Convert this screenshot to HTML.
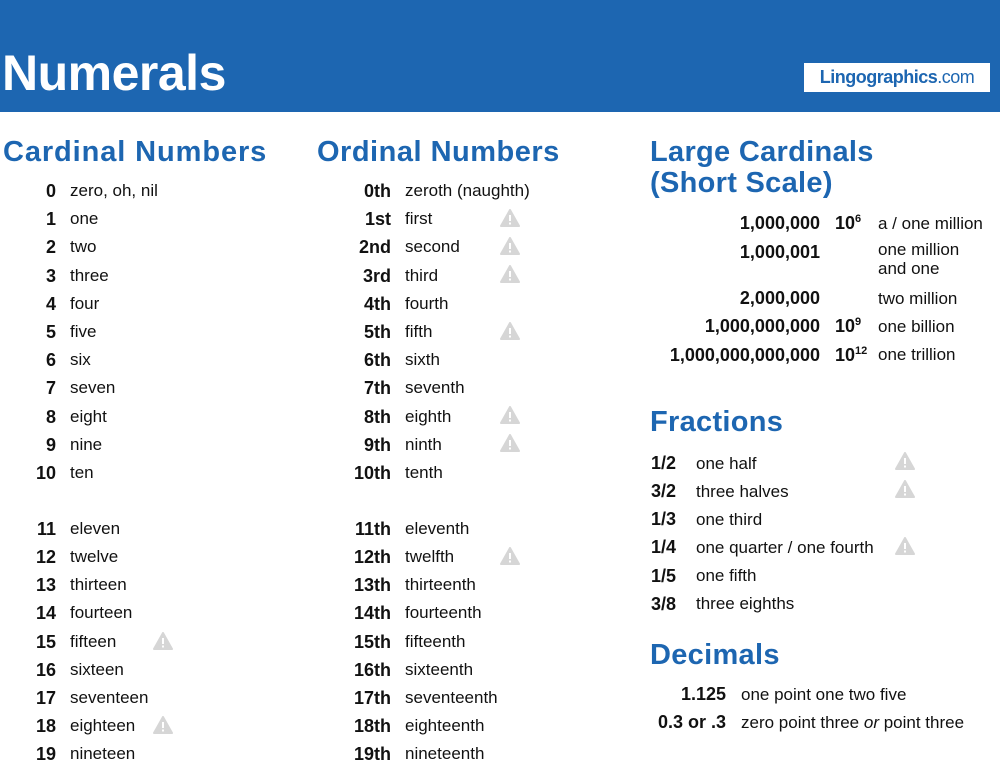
<!DOCTYPE html>
<html><head><meta charset="utf-8"><style>
body{margin:0;width:1000px;height:766px;background:#fff;position:relative;overflow:hidden;font-family:"Liberation Sans",sans-serif;color:#111}
.hdr{position:absolute;left:0;top:0;width:1000px;height:112px;background:#1d66b1}
.t{position:absolute;left:2px;top:44px;font-size:50px;font-weight:bold;color:#fff;line-height:58px;letter-spacing:-0.5px}
.logo{position:absolute;left:804px;top:63px;width:186px;height:29px;background:#fff;color:#1d66b1;font-size:18px;line-height:29px;text-align:center;font-weight:bold;letter-spacing:-0.5px}
.logo span{font-weight:normal}
.h{position:absolute;font-size:29px;font-weight:bold;color:#1d66b1;line-height:32px;letter-spacing:0.3px;white-space:nowrap}
.n{position:absolute;font-size:18px;font-weight:bold;line-height:24px;text-align:right;white-space:nowrap}
.w{position:absolute;font-size:17px;line-height:24px;white-space:nowrap}
.x{position:absolute;width:20px;height:18px}
sup{font-size:11px;line-height:0}
</style></head><body>
<div class="hdr"></div>
<div class="t">Numerals</div>
<div class="logo">Lingographics<span>.com</span></div>
<svg width="0" height="0" style="position:absolute"><defs><g id="wi"><path d="M10 1 L19 17 L1 17 Z" fill="#d6d6d6" stroke="#d6d6d6" stroke-linejoin="round" stroke-width="2"/><rect x="9" y="6" width="2" height="6" fill="#fff"/><rect x="9" y="13.5" width="2" height="2" fill="#fff"/></g></defs></svg>

<div class="h" style="left:3px;top:136px;letter-spacing:0.9px">Cardinal Numbers</div>
<div class="h" style="left:317px;top:136px;letter-spacing:0.5px">Ordinal Numbers</div>
<div class="h" style="left:650px;top:136px">Large Cardinals</div>
<div class="h" style="left:650px;top:167px">(Short Scale)</div>
<div class="h" style="left:650px;top:406px">Fractions</div>
<div class="h" style="left:650px;top:639px">Decimals</div>

<!-- cardinals -->
<div class="n" style="right:944px;top:179px">0</div><div class="w" style="left:70px;top:179px">zero, oh, nil</div>
<div class="n" style="right:944px;top:207px">1</div><div class="w" style="left:70px;top:207px">one</div>
<div class="n" style="right:944px;top:235px">2</div><div class="w" style="left:70px;top:235px">two</div>
<div class="n" style="right:944px;top:264px">3</div><div class="w" style="left:70px;top:264px">three</div>
<div class="n" style="right:944px;top:292px">4</div><div class="w" style="left:70px;top:292px">four</div>
<div class="n" style="right:944px;top:320px">5</div><div class="w" style="left:70px;top:320px">five</div>
<div class="n" style="right:944px;top:348px">6</div><div class="w" style="left:70px;top:348px">six</div>
<div class="n" style="right:944px;top:376px">7</div><div class="w" style="left:70px;top:376px">seven</div>
<div class="n" style="right:944px;top:405px">8</div><div class="w" style="left:70px;top:405px">eight</div>
<div class="n" style="right:944px;top:433px">9</div><div class="w" style="left:70px;top:433px">nine</div>
<div class="n" style="right:944px;top:461px">10</div><div class="w" style="left:70px;top:461px">ten</div>
<div class="n" style="right:944px;top:517px">11</div><div class="w" style="left:70px;top:517px">eleven</div>
<div class="n" style="right:944px;top:545px">12</div><div class="w" style="left:70px;top:545px">twelve</div>
<div class="n" style="right:944px;top:573px">13</div><div class="w" style="left:70px;top:573px">thirteen</div>
<div class="n" style="right:944px;top:601px">14</div><div class="w" style="left:70px;top:601px">fourteen</div>
<div class="n" style="right:944px;top:630px">15</div><div class="w" style="left:70px;top:630px">fifteen</div>
<div class="n" style="right:944px;top:658px">16</div><div class="w" style="left:70px;top:658px">sixteen</div>
<div class="n" style="right:944px;top:686px">17</div><div class="w" style="left:70px;top:686px">seventeen</div>
<div class="n" style="right:944px;top:714px">18</div><div class="w" style="left:70px;top:714px">eighteen</div>
<div class="n" style="right:944px;top:742px">19</div><div class="w" style="left:70px;top:742px">nineteen</div>
<svg class="x" style="left:153px;top:632px"><use href="#wi"/></svg>
<svg class="x" style="left:153px;top:716px"><use href="#wi"/></svg>

<!-- ordinals -->
<div class="n" style="right:609px;top:179px">0th</div><div class="w" style="left:405px;top:179px">zeroth (naughth)</div>
<div class="n" style="right:609px;top:207px">1st</div><div class="w" style="left:405px;top:207px">first</div>
<div class="n" style="right:609px;top:235px">2nd</div><div class="w" style="left:405px;top:235px">second</div>
<div class="n" style="right:609px;top:264px">3rd</div><div class="w" style="left:405px;top:264px">third</div>
<div class="n" style="right:609px;top:292px">4th</div><div class="w" style="left:405px;top:292px">fourth</div>
<div class="n" style="right:609px;top:320px">5th</div><div class="w" style="left:405px;top:320px">fifth</div>
<div class="n" style="right:609px;top:348px">6th</div><div class="w" style="left:405px;top:348px">sixth</div>
<div class="n" style="right:609px;top:376px">7th</div><div class="w" style="left:405px;top:376px">seventh</div>
<div class="n" style="right:609px;top:405px">8th</div><div class="w" style="left:405px;top:405px">eighth</div>
<div class="n" style="right:609px;top:433px">9th</div><div class="w" style="left:405px;top:433px">ninth</div>
<div class="n" style="right:609px;top:461px">10th</div><div class="w" style="left:405px;top:461px">tenth</div>
<div class="n" style="right:609px;top:517px">11th</div><div class="w" style="left:405px;top:517px">eleventh</div>
<div class="n" style="right:609px;top:545px">12th</div><div class="w" style="left:405px;top:545px">twelfth</div>
<div class="n" style="right:609px;top:573px">13th</div><div class="w" style="left:405px;top:573px">thirteenth</div>
<div class="n" style="right:609px;top:601px">14th</div><div class="w" style="left:405px;top:601px">fourteenth</div>
<div class="n" style="right:609px;top:630px">15th</div><div class="w" style="left:405px;top:630px">fifteenth</div>
<div class="n" style="right:609px;top:658px">16th</div><div class="w" style="left:405px;top:658px">sixteenth</div>
<div class="n" style="right:609px;top:686px">17th</div><div class="w" style="left:405px;top:686px">seventeenth</div>
<div class="n" style="right:609px;top:714px">18th</div><div class="w" style="left:405px;top:714px">eighteenth</div>
<div class="n" style="right:609px;top:742px">19th</div><div class="w" style="left:405px;top:742px">nineteenth</div>
<svg class="x" style="left:500px;top:209px"><use href="#wi"/></svg>
<svg class="x" style="left:500px;top:237px"><use href="#wi"/></svg>
<svg class="x" style="left:500px;top:265px"><use href="#wi"/></svg>
<svg class="x" style="left:500px;top:322px"><use href="#wi"/></svg>
<svg class="x" style="left:500px;top:406px"><use href="#wi"/></svg>
<svg class="x" style="left:500px;top:434px"><use href="#wi"/></svg>
<svg class="x" style="left:500px;top:547px"><use href="#wi"/></svg>

<!-- large -->
<div class="n" style="right:180px;top:211px">1,000,000</div><div class="n" style="left:835px;top:211px;text-align:left">10<sup>6</sup></div><div class="w" style="left:878px;top:212px">a / one million</div>
<div class="n" style="right:180px;top:240px">1,000,001</div><div class="w" style="left:878px;top:240px;line-height:19px">one million<br>and one</div>
<div class="n" style="right:180px;top:286px">2,000,000</div><div class="w" style="left:878px;top:287px">two million</div>
<div class="n" style="right:180px;top:314px">1,000,000,000</div><div class="n" style="left:835px;top:314px;text-align:left">10<sup>9</sup></div><div class="w" style="left:878px;top:315px">one billion</div>
<div class="n" style="right:180px;top:343px">1,000,000,000,000</div><div class="n" style="left:835px;top:343px;text-align:left">10<sup>12</sup></div><div class="w" style="left:878px;top:343px">one trillion</div>

<!-- fractions -->
<div class="n" style="left:651px;top:451px;text-align:left">1/2</div><div class="w" style="left:696px;top:452px">one half</div>
<div class="n" style="left:651px;top:479px;text-align:left">3/2</div><div class="w" style="left:696px;top:480px">three halves</div>
<div class="n" style="left:651px;top:507px;text-align:left">1/3</div><div class="w" style="left:696px;top:508px">one third</div>
<div class="n" style="left:651px;top:535px;text-align:left">1/4</div><div class="w" style="left:696px;top:536px">one quarter / one fourth</div>
<div class="n" style="left:651px;top:564px;text-align:left">1/5</div><div class="w" style="left:696px;top:564px">one fifth</div>
<div class="n" style="left:651px;top:592px;text-align:left">3/8</div><div class="w" style="left:696px;top:592px">three eighths</div>
<svg class="x" style="left:895px;top:452px"><use href="#wi"/></svg>
<svg class="x" style="left:895px;top:480px"><use href="#wi"/></svg>
<svg class="x" style="left:895px;top:537px"><use href="#wi"/></svg>

<!-- decimals -->
<div class="n" style="right:274px;top:682px">1.125</div><div class="w" style="left:741px;top:683px">one point one two five</div>
<div class="n" style="right:274px;top:710px">0.3 or .3</div><div class="w" style="left:741px;top:711px">zero point three <i>or</i> point three</div>
</body></html>
